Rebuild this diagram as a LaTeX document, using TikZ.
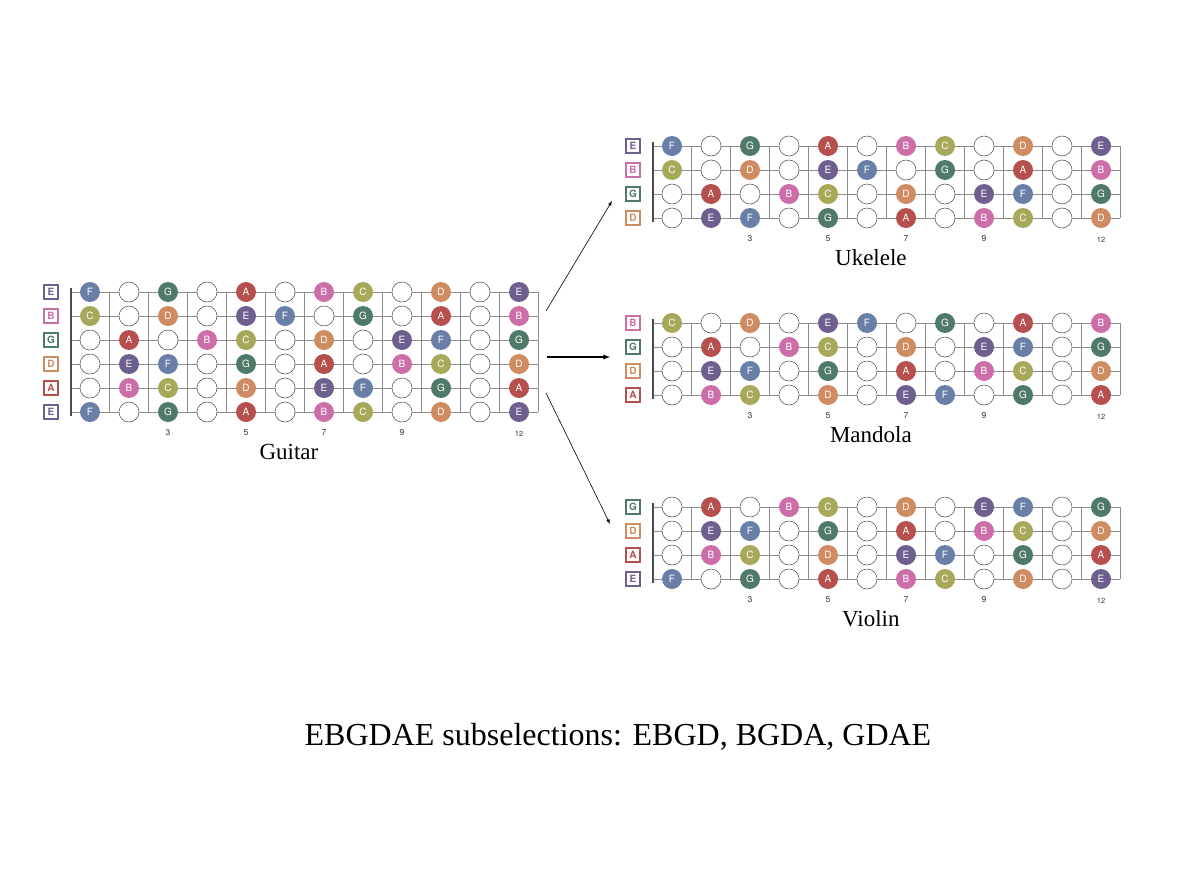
\documentclass[tikz,border=0pt]{standalone}
\usepackage{fontspec}
\setmainfont{TeX Gyre Heros}
\newfontfamily\titlefont{Liberation Serif}
\begin{document}
\definecolor{nF}{HTML}{6A7FA8}
\definecolor{nG}{HTML}{4F7A68}
\definecolor{nA}{HTML}{B5504F}
\definecolor{nB}{HTML}{CC6FA8}
\definecolor{nC}{HTML}{A7A85A}
\definecolor{nD}{HTML}{CF8C62}
\definecolor{nE}{HTML}{6E5F8E}
\tikzset{
 note/.style={circle,minimum size=20pt,inner sep=0pt,fill=#1,text=white,font=\fontsize{10}{10}\selectfont},
 empty/.style={circle,minimum size=20pt,inner sep=0pt,draw=black!70,fill=white,line width=0.5pt},
 openbox/.style={draw=#1,line width=2.2pt,minimum size=14pt,inner sep=0pt,text=#1,fill=white,font=\bfseries\fontsize{10}{10}\selectfont},
 fret/.style={draw=black!45,line width=0.6pt},
 nut/.style={draw=black!70,line width=1.5pt},
 fnum/.style={font=\fontsize{8.5}{8.5}\selectfont,text=black!80},
 title/.style={font=\titlefont\fontsize{23}{23}\selectfont},
 arr/.style={-latex,line width=0.6pt}
}
\newcommand{\notename}[1]{\ifcase#1 C\or\or D\or\or E\or F\or\or G\or\or A\or\or B\fi}
\newcommand{\fboard}[5]{%
 \foreach \op/\nm [count=\r] in {#4} {\xdef\nrows{\r}}
 \pgfmathsetmacro\yb{#3+(\nrows-1)*24}
 \draw[fret] (#2-19,#3) -- (#2-19,\yb);
 \foreach \k in {1,...,12} {\draw[fret] (#2+\k*39-20,#3) -- (#2+\k*39-20,\yb);}
 \foreach \op/\nm [count=\r] in {#4} {
   \pgfmathsetmacro\yy{#3+(\r-1)*24}
   \draw[fret] (#2-19,\yy) -- (#2+12*39-20,\yy);
   \node[openbox=n\nm] (#1-o\r) at (#2-39,\yy) {\nm};
   \foreach \k in {1,...,12} {
     \pgfmathtruncatemacro\nn{mod(\op+\k,12)}
     \ifnum\nn=1 \node[empty] (#1-\r-\k) at (#2+\k*39-39,\yy) {};
     \else\ifnum\nn=3 \node[empty] (#1-\r-\k) at (#2+\k*39-39,\yy) {};
     \else\ifnum\nn=6 \node[empty] (#1-\r-\k) at (#2+\k*39-39,\yy) {};
     \else\ifnum\nn=8 \node[empty] (#1-\r-\k) at (#2+\k*39-39,\yy) {};
     \else\ifnum\nn=10 \node[empty] (#1-\r-\k) at (#2+\k*39-39,\yy) {};
     \else \node[note=n\notename{\nn}] (#1-\r-\k) at (#2+\k*39-39,\yy) {\notename{\nn}};
     \fi\fi\fi\fi\fi
   }
 }
 \draw[nut] (#2-19,#3-4) -- (#2-19,\yb+4);
 \pgfmathsetmacro\yn{\yb+21}
 \foreach \k in {3,5,7,9} {\node[fnum] (#1-n\k) at (#2+\k*39-39,\yn) {\k};}
 \node[fnum,font=\fontsize{7.5}{7.5}\selectfont] (#1-n12) at (#2+11*39,\yn+1) {12};
 \node[title,anchor=base] (#1-t) at (#2+5.1*39,\yb+47) {#5};
}
\begin{tikzpicture}[x=1pt,y=-1pt]
\useasboundingbox[fill=white] (0,0) rectangle (1177,880);
\fboard{gt}{90}{292}{4/E,11/B,7/G,2/D,9/A,4/E}{Guitar}
\fboard{uk}{672}{146}{4/E,11/B,7/G,2/D}{Ukelele}
\fboard{md}{672}{323}{11/B,7/G,2/D,9/A}{Mandola}
\fboard{vl}{672}{507}{7/G,2/D,9/A,4/E}{Violin}
\coordinate (a1) at (546,311);
\coordinate (a2) at (547,357);
\coordinate (a3) at (546,393);
\coordinate (b1) at (612,201);
\coordinate (b2) at (610,357);
\coordinate (b3) at (610,524);
\draw[arr] (a1) -- (b1);
\draw[arr,line width=1.3pt] (a2) -- (b2);
\draw[arr] (a3) -- (b3);
\node[title,font=\titlefont\fontsize{32}{32}\selectfont] (cap) at (618,737) {EBGDAE subselections: EBGD, BGDA, GDAE};
\end{tikzpicture}
\end{document}
